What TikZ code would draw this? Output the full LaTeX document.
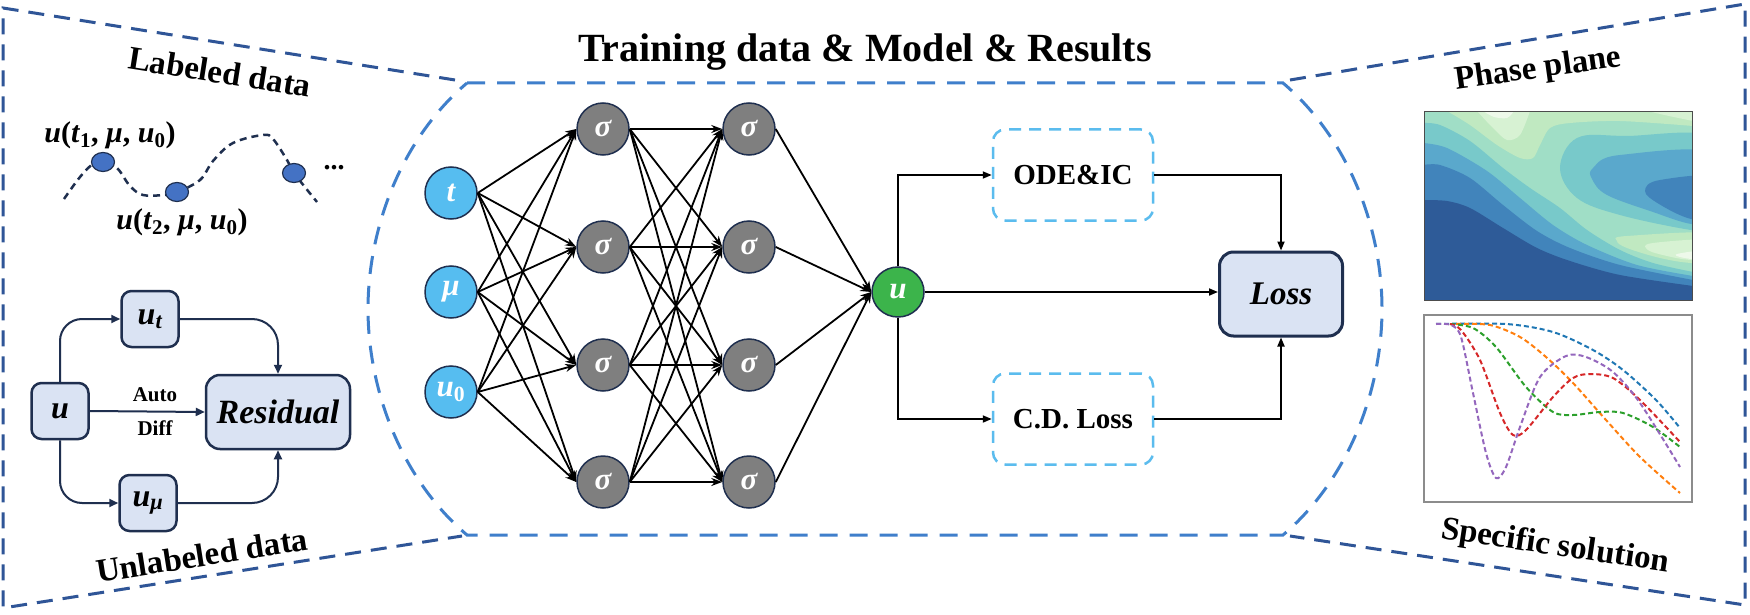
\documentclass[tikz,border=0pt]{standalone}
\usepackage{fontspec}
\setmainfont{Liberation Serif}
\usetikzlibrary{arrows.meta,calc,shapes.geometric}
\definecolor{navy}{HTML}{1F2F4F}
\definecolor{trap}{HTML}{2F5597}
\definecolor{midc}{HTML}{3F7FCB}
\definecolor{boxfill}{HTML}{DAE3F3}
\definecolor{inblue}{HTML}{56BDF0}
\definecolor{sgray}{HTML}{7F7F7F}
\definecolor{ugreen}{HTML}{3CB44B}
\definecolor{dashblue}{HTML}{5BBCEE}
\definecolor{dotblue}{HTML}{4472C4}
\definecolor{cLz}{HTML}{EEF9EA}
\definecolor{cLa}{HTML}{D7F2D3}
\definecolor{cLb}{HTML}{C0E9C1}
\definecolor{cLc}{HTML}{A0DEC6}
\definecolor{cLd}{HTML}{78C9CA}
\definecolor{cLe}{HTML}{5AA8CC}
\definecolor{cLf}{HTML}{4184BB}
\definecolor{cLg}{HTML}{2E5B98}
\definecolor{pblue}{HTML}{1F77B4}
\definecolor{porange}{HTML}{FF7F0E}
\definecolor{pgreen}{HTML}{2CA02C}
\definecolor{pred}{HTML}{D62728}
\definecolor{ppurple}{HTML}{9467BD}
\newcommand{\fsz}[1]{\fontsize{#1}{#1}\selectfont}
\newcommand{\ulab}[1]{\textit{u}(\textit{t}\textsubscript{#1}, \textit{μ}, \textit{u}\textsubscript{0})}
\begin{document}
\begin{tikzpicture}[x=1pt,y=-1pt,
  trapline/.style={draw=trap, line width=3pt, dash pattern=on 16pt off 10pt},
  midline/.style={draw=midc, line width=3pt, dash pattern=on 18pt off 12pt},
  lbl/.style={font=\fsz{33}\bfseries, inner sep=0pt},
  bx/.style={draw=navy, line width=2.5pt, fill=boxfill, rounded corners=10pt, minimum width=57pt, minimum height=56pt, inner sep=0pt, font=\fsz{32}\bfseries\itshape},
  neuron/.style={circle, draw=navy, line width=1.5pt, minimum size=52pt, inner sep=0pt, font=\fsz{31}\bfseries\itshape, text=white},
  nn/.style={-{Stealth[length=11pt,width=8pt]}, line width=1.8pt, black},
  arr/.style={-{Triangle[length=9pt,width=8pt]}, line width=2pt, draw=navy},
  barr/.style={-{Triangle[length=9pt,width=7pt]}, line width=1.8pt, black},
  dbox/.style={draw=dashblue, line width=2.5pt, dash pattern=on 12pt off 8pt, rounded corners=12pt, fill=white, minimum width=160pt, minimum height=91pt, font=\fsz{29}\bfseries},
  sol/.style={line width=2pt, dash pattern=on 5pt off 3pt},
  datadot/.style={ellipse, draw=navy, line width=1.2pt, fill=dotblue, minimum width=23pt, minimum height=19pt, inner sep=0pt}
]
\useasboundingbox (0,0) rectangle (1750,615);
\fill[white] (0,0) rectangle (1750,615);

% outer trapezoids
\draw[trapline] (455,80) -- (3,8) -- (3,608) -- (462,536);
\draw[trapline] (1290,80) -- (1745,4) -- (1745,605) -- (1290,536);

% middle stadium
\draw[midline] (467,83) -- (1283,83) .. controls (1350,140) and (1382,230) .. (1382,309) .. controls (1382,388) and (1350,478) .. (1283,535) -- (467,535) .. controls (400,478) and (368,388) .. (368,309) .. controls (368,230) and (400,140) .. cycle;

% title
\node[font=\fsz{40}\bfseries, anchor=base, inner sep=0pt] (title) at (865,62) {Training data \& Model \& Results};

% ---------- left panel ----------
\node[lbl, rotate=-9] (labeled) at (220,72) {Labeled data};
\node[lbl, rotate=9] (unlabeled) at (202,555) {Unlabeled data};

\draw[navy, line width=2.5pt, dash pattern=on 7pt off 5pt] plot[smooth, tension=0.6] coordinates {(64,199) (80,177) (93,164) (103,162) (117,168) (130,186) (143,195) (163,195) (177,192) (200,180) (213,161) (233,143) (263,135) (273,139) (287,160) (294,173) (317,202)};
\node[datadot] (d1) at (103,162) {};
\node[datadot] (d2) at (177,192) {};
\node[datadot] (d3) at (294,173) {};
\node[font=\fsz{30}\bfseries, inner sep=0pt] (l1) at (110,135) {\ulab{1}};
\node[font=\fsz{30}\bfseries, inner sep=0pt] (l2) at (182,222) {\ulab{2}};
\node[font=\fsz{28}\bfseries, inner sep=0pt] (dots) at (334,168) {...};

\node[bx] (u) at (60,411) {u};
\node[bx] (ut) at (150,319) {u\textsubscript{t}};
\node[bx] (um) at (148,503) {u\textsubscript{μ}};
\node[bx, minimum width=144pt, minimum height=74pt, rounded corners=14pt, font=\fsz{34}\bfseries\itshape] (res) at (278,412) {Residual};
\draw[arr, rounded corners=22pt] (u.north) |- (ut.west);
\draw[arr, rounded corners=22pt] (u.south) |- (um.west);
\draw[arr, rounded corners=26pt] (ut.east) -| (res.north);
\draw[arr, rounded corners=26pt] (um.east) -| (res.south);
\draw[arr] (u.east) -- (res.west);
\node[font=\fsz{21}\bfseries, inner sep=0pt] (auto) at (155,395) {Auto};
\node[font=\fsz{21}\bfseries, inner sep=0pt] (diff) at (155,428) {Diff};

% ---------- network ----------
\node[neuron, fill=inblue] (in1) at (451,193) {t};
\node[neuron, fill=inblue] (in2) at (451,292) {μ};
\node[neuron, fill=inblue] (in3) at (451,392) {u\textsubscript{\upshape 0}};
\foreach \j/\y in {1/129,2/247,3/365,4/482}{
  \node[neuron, fill=sgray] (ha\j) at (603,\y) {σ};
  \node[neuron, fill=sgray] (hb\j) at (749,\y) {σ};
}
\node[neuron, fill=ugreen, ellipse, minimum width=52pt, minimum height=50pt] (out) at (898,292) {u};
\foreach \i in {1,2,3}{\foreach \j in {1,...,4}{\draw[nn] (in\i.east) -- (ha\j.west);}}
\foreach \i in {1,...,4}{\foreach \j in {1,...,4}{\draw[nn] (ha\i.east) -- (hb\j.west);}}
\foreach \i in {1,...,4}{\draw[nn] (hb\i.east) -- (out.west);}

% ---------- loss part ----------
\node[dbox] (ode) at (1073,175) {ODE\&IC};
\node[dbox] (cd) at (1073,419) {C.D. Loss};
\node[draw=navy, line width=3pt, fill=boxfill, rounded corners=14pt, minimum width=123pt, minimum height=84pt, font=\fsz{33}\bfseries\itshape] (loss) at (1281,294) {Loss};
\draw[barr] (out.north) |- (ode.west);
\draw[barr] (out.south) |- (cd.west);
\draw[barr] (out.east) -- (out.east -| loss.west);
\draw[barr] (ode.east) -| (loss.north);
\draw[barr] (cd.east) -| (loss.south);

% ---------- right panel ----------
\node[lbl, rotate=8] (phase) at (1538,70) {Phase plane};
\node[lbl, rotate=-8.5] (spec) at (1555,547) {Specific solution};

\begin{scope}[shift={(1424,112)}]
  \clip (0,0) rectangle (268,188);
  \fill[cLc] (0,0) rectangle (268,188);
  \fill[cLb] plot[smooth] coordinates {(23,-1) (46,13) (73,33) (96,46) (109,46) (116,33) (126,16) (146,11) (196,9) (269,14)} -- (269,-1) -- cycle;
  \fill[cLa] plot[smooth] coordinates {(53,-1) (69,16) (83,28) (96,23) (106,-1)} -- cycle;
  \fill[cLz] plot[smooth] coordinates {(59,-1) (70,5) (83,6) (90,-1)} -- cycle;
  \fill[cLa] plot[smooth] coordinates {(223,-1) (245,4) (269,9)} -- (269,-1) -- cycle;
  % tongue island
  \fill[cLd] plot[smooth cycle, tension=0.6] coordinates {(300,29) (200,24) (153,26) (136,56) (153,86) (196,103) (267,118) (300,119)};
  \fill[cLe] plot[smooth cycle, tension=0.6] coordinates {(300,43) (196,43) (169,56) (168,67) (183,83) (229,100) (267,112) (300,113)};
  \fill[cLf] plot[smooth cycle, tension=0.6] coordinates {(300,66) (236,68) (221,79) (235,92) (267,107) (300,108)};
  % lower bands
  \fill[cLd] plot[smooth] coordinates {(-1,11) (16,13) (46,29) (79,56) (106,76) (136,96) (163,118) (196,138) (229,151) (269,160)} -- (269,189) -- (-1,189) -- cycle;
  \fill[cLe] plot[smooth] coordinates {(-1,31) (23,36) (63,59) (96,86) (129,113) (163,133) (213,153) (269,164)} -- (269,189) -- (-1,189) -- cycle;
  \fill[cLf] plot[smooth] coordinates {(-1,53) (16,53) (46,66) (79,93) (113,119) (146,136) (196,153) (269,168)} -- (269,189) -- (-1,189) -- cycle;
  \fill[cLg] plot[smooth] coordinates {(-1,88) (23,89) (46,96) (79,116) (113,136) (146,149) (196,163) (269,174)} -- (269,189) -- (-1,189) -- cycle;
  % light tongue
  \fill[cLb] plot[smooth cycle, tension=0.6] coordinates {(300,122) (203,124) (193,129) (203,136) (236,146) (267,151) (300,151)};
  \fill[cLa] plot[smooth cycle, tension=0.6] coordinates {(300,128) (229,131) (224,138) (243,144) (267,148) (300,148)};
  \fill[cLz] plot[smooth cycle, tension=0.6] coordinates {(300,137) (253,142) (267,147) (300,148)};
\end{scope}
\draw[black!70, line width=1pt] (1424,112) rectangle (1692,300);

\draw[black!45, line width=1.5pt] (1424,315) rectangle (1692,502);
\begin{scope}[shift={(1424,315)}]
  \draw[sol, pblue] plot[smooth] coordinates {(12,9) (82,9) (129,17) (169,35) (199,55) (232,85) (256,113)};
  \draw[sol, porange] plot[smooth] coordinates {(32,9) (66,10) (96,22) (122,42) (149,68) (182,105) (216,142) (256,178)};
  \draw[sol, pgreen] plot[smooth] coordinates {(26,9) (49,13) (72,32) (102,72) (129,97) (149,100) (176,97) (199,98) (229,112) (256,132)};
  \draw[sol, pred] plot[smooth] coordinates {(26,9) (37,15) (56,45) (76,98) (89,120) (102,115) (129,82) (149,63) (166,59) (189,63) (216,85) (256,127)};
  \draw[sol, ppurple] plot[smooth] coordinates {(12,9) (27,10) (37,22) (49,78) (62,138) (72,163) (82,152) (96,112) (116,62) (142,41) (162,42) (189,57) (216,88) (256,152)};
\end{scope}
\end{tikzpicture}
\end{document}
